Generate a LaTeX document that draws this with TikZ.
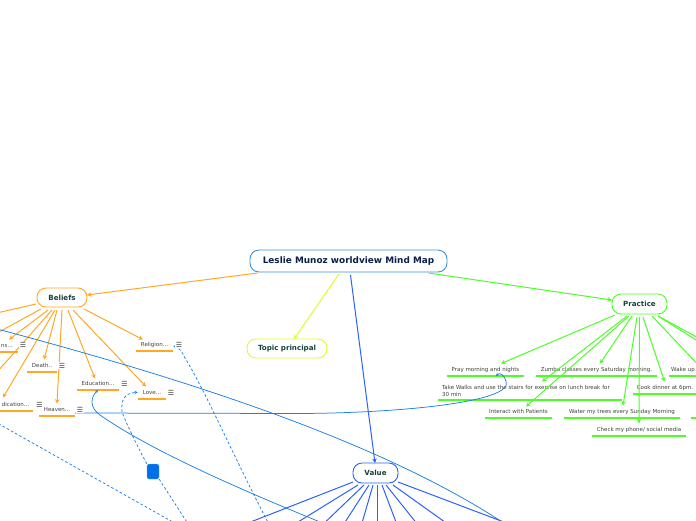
\documentclass[tikz,border=0pt]{standalone}
\usepackage{fontspec}
\setmainfont{DejaVu Sans}
\usetikzlibrary{calc,arrows.meta}
\definecolor{cor}{HTML}{FFA726}
\definecolor{cgr}{HTML}{4CFF26}
\definecolor{cye}{HTML}{D8FF2C}
\definecolor{cbl}{HTML}{2962FF}
\definecolor{clk}{HTML}{1A7FE8}
\definecolor{chead}{HTML}{15443C}
\definecolor{ctxt}{HTML}{404040}
\definecolor{croot}{HTML}{3D94D8}
\definecolor{ctitle}{HTML}{0B1F4D}
\definecolor{csq}{HTML}{0070E8}
\tikzset{
  tip/.style={-{Stealth[length=4.5,width=4.5]}},
  main/.style={draw,rounded corners=9,line width=0.9,inner sep=0,font=\bfseries\fontsize{7.1}{8}\selectfont,text=chead,fill=white},
  leaf/.style={inner sep=0,minimum height=13,anchor=south,font=\fontsize{5.5}{7.3}\selectfont,text=ctxt},
  icon/.style={inner sep=0.5,fill=white,font=\fontsize{7}{7}\selectfont,text=ctxt},
  ule/.style={line width=1.4},
  sp/.style={line width=1},
  lnk/.style={line width=0.75,color=clk},
  lnkd/.style={line width=0.75,color=clk,dash pattern=on 2.6 off 2.2},
  ltip/.style={-{Stealth[length=3.2,width=3.2]}},
}
\newcommand\leafnode[6]{%
  \node[leaf,minimum width=#3-#2] (#1) at ({(#2+#3)/2},#4) {\raisebox{-2pt}[0pt][0pt]{#6}};
  \draw[ule,#5] (#1.south west) -- (#1.south east);}
\begin{document}
\begin{tikzpicture}[x=1pt,y=-1pt]
\useasboundingbox (0,0) rectangle (696,520);
\clip (0,0) rectangle (696,520);
% main nodes
\node[main,draw=croot,minimum width=197,minimum height=22,font=\bfseries\fontsize{8.9}{10}\selectfont,text=ctitle] (root) at (348.5,261) {Leslie Munoz worldview Mind Map};
\node[main,draw=cor,minimum width=50,minimum height=19] (beliefs) at (62,297.5) {Beliefs};
\node[main,draw=cgr,minimum width=55,minimum height=20] (practice) at (639.5,304) {Practice};
\node[main,draw=cye,minimum width=80,minimum height=19] (topic) at (287,348.5) {Topic principal};
\node[main,draw=cbl,minimum width=45,minimum height=20] (value) at (375.5,473) {Value};
% off-page ends
\coordinate (offa) at (-10,314.5);
\coordinate (offb) at (-12,338);
\coordinate (offc) at (-10,380);
\coordinate (offd) at (704,371);
\coordinate (offe) at (704,341);
\coordinate (offf) at (704,345);
\foreach \n/\x in {va/230,vb/285,vc/317,vd/340,ve/360,vf/377,vg/399,vh/422,vi/456,vj/525}{\coordinate (\n) at (\x,530);}
\coordinate (lka) at (-10,327);
\coordinate (lkb) at (514,530);
\coordinate (lkc) at (340,530);
\coordinate (lkd) at (-10,419);
\coordinate (lke) at (187,530);
\coordinate (lkf) at (192,530);
\coordinate (lkg) at (272,530);
% leaves
\leafnode{religion}{136}{173}{351}{cor}{Religion...}
\leafnode{death}{27}{57}{372}{cor}{Death..}
\leafnode{education}{77}{119}{390}{cor}{Education...}
\leafnode{love}{138}{166}{399}{cor}{Love...}
\leafnode{heaven}{39}{75}{416}{cor}{Heaven...}
\leafnode{medic}{-2}{33}{411}{cor}{dication...}
\leafnode{lns}{-4}{18}{352}{cor}{ns...}
\leafnode{pray}{447}{524}{376}{cgr}{Pray morning and nights}
\leafnode{zumba}{536}{657}{376}{cgr}{Zumba classes every Saturday morning.}
\leafnode{wake}{669}{697}{376}{cgr}{Wake up}
\leafnode{cook}{633}{697}{394}{cgr}{Cook dinner at 6pm.}
\leafnode{interact}{485}{552}{418}{cgr}{Interact with Patients}
\leafnode{water}{564}{680}{418}{cgr}{Water my trees every Sunday Morning}
\leafnode{check}{592}{686}{436}{cgr}{Check my phone/ social media}
\leafnode{stub}{691}{697}{418}{cgr}{}
\node[leaf,minimum width=184,text width=176,align=left,minimum height=18] (walks) at (530,400) {Take Walks and use the stairs for exercise on lunch break for\\[-0.3pt]30 min};
\draw[ule,cgr] (walks.south west) -- (walks.south east);
% root connectors
\draw[sp,cor,tip] ($(root)+(-91,12)$) -- ($(beliefs)+(25,-2.5)$);
\draw[sp,cgr,tip] ($(root)+(80,12)$) -- ($(practice)+(-27.5,-4)$);
\draw[sp,cye,tip] ($(root)+(-9.5,13)$) -- ($(topic)+(7,-9.5)$);
\draw[sp,cbl,tip] ($(root)+(2,14)$) -- ($(value)+(-0.5,-10)$);
% beliefs spokes
\draw[sp,cor] ($(beliefs)+(-26,6.5)$) -- (offa);
\draw[sp,cor] ($(beliefs)+(-21,11.5)$) -- (offb);
\draw[sp,cor] ($(beliefs)+(-10,12.5)$) -- (offc);
\draw[sp,cor,tip] ($(beliefs)+(-14,12.5)$) -- ($(lns.north)+(2,1)$);
\draw[sp,cor,tip] ($(beliefs)+(-7,12.5)$) -- ($(medic.north)+(-12.5,0)$);
\draw[sp,cor,tip] ($(beliefs)+(-5,12.5)$) -- ($(death.north)+(2,1)$);
\draw[sp,cor,tip] ($(beliefs)+(0,12.5)$) -- ($(heaven.north)+(0,1)$);
\draw[sp,cor,tip] ($(beliefs)+(6,12.5)$) -- ($(education.north)+(-3,2)$);
\draw[sp,cor,tip] ($(beliefs)+(11,12.5)$) -- ($(love.north)+(-6,1)$);
\draw[sp,cor,tip] ($(beliefs)+(22,11.5)$) -- ($(religion.north)+(-11.5,2)$);
% practice spokes
\draw[sp,cgr,tip] ($(practice)+(-24.5,11)$) -- ($(pray.north)+(15.5,1)$);
\draw[sp,cgr,tip] ($(practice)+(-12.5,12)$) -- ($(walks.north)+(12,0)$);
\draw[sp,cgr,tip] ($(practice)+(-10.5,12)$) -- ($(interact.north)+(7.5,2)$);
\draw[sp,cgr,tip] ($(practice)+(-7.5,12)$) -- ($(zumba.north)+(3.5,1)$);
\draw[sp,cgr,tip] ($(practice)+(-2.5,13)$) -- ($(water.north)+(1,1)$);
\draw[sp,cgr,tip] ($(practice)+(0,13)$) -- ($(check.north)+(0,1)$);
\draw[sp,cgr,tip] ($(practice)+(3.5,13)$) -- ($(cook.north)+(-0.5,1)$);
\draw[sp,cgr] ($(practice)+(12.5,12)$) -- (offd);
\draw[sp,cgr] ($(practice)+(18.5,12)$) -- (offe);
\draw[sp,cgr] ($(practice)+(18.5,12)$) -- (offf);
% value spokes
\draw[sp,cbl] ($(value)+(-22.5,9)$) -- (va);
\draw[sp,cbl] ($(value)+(-17.5,12)$) -- (vb);
\draw[sp,cbl] ($(value)+(-11.5,12)$) -- (vc);
\draw[sp,cbl] ($(value)+(-6.5,12)$) -- (vd);
\draw[sp,cbl] ($(value)+(-2.5,12)$) -- (ve);
\draw[sp,cbl] ($(value)+(1.5,12)$) -- (vf);
\draw[sp,cbl] ($(value)+(6.5,12)$) -- (vg);
\draw[sp,cbl] ($(value)+(10.5,12)$) -- (vh);
\draw[sp,cbl] ($(value)+(17.5,12)$) -- (vi);
\draw[sp,cbl] ($(value)+(22.5,9)$) -- (vj);
% square
\node[draw=clk!60,fill=csq,rounded corners=1.5,minimum width=12,minimum height=15,inner sep=0,line width=0.4] (sq) at (153,471.5) {};
% links
\draw[lnk,ltip] (heaven.east |- 0,413) -- (300,413.5) .. controls (400,413) and (515,402) .. (506,381) .. controls (504,375) and (500,372) .. (pray.south -| 496,0);
\draw[lnk] (lka) .. controls (120,362) and (370,430) .. (lkb);
\draw[lnk,ltip] (lkc) .. controls (240,490) and (150,450) .. (100,415) .. controls (90,408) and (90,398) .. (education.south);
\draw[lnkd] (lkd) -- (lke);
\draw[lnkd,ltip] (sq.north west) .. controls (135,442) and (125,420) .. (122,412) .. controls (121,402) and (123,393) .. (love.west);
\draw[lnkd] (sq.south east) -- (lkf);
\draw[lnkd,ltip] (lkg) .. controls (240,470) and (205,390) .. (185,358) .. controls (182,351) and (178,347) .. (religion.east |- 0,346);
% menu icons
\node[icon] (mreligion) at (179,345) {☰};
\node[icon] (mdeath) at (62,365.5) {☰};
\node[icon] (meducation) at (124.5,384) {☰};
\node[icon] (mlove) at (171,393) {☰};
\node[icon] (mheaven) at (80,410) {☰};
\node[icon] (mmedic) at (39.5,405) {☰};
\node[icon] (mlns) at (23,345) {☰};
\end{tikzpicture}
\end{document}
